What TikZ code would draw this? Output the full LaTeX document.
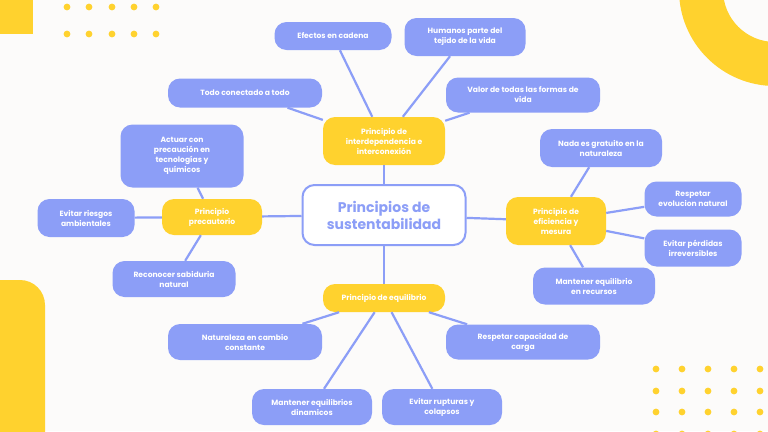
\documentclass[tikz,border=0pt]{standalone}
\usepackage{fontspec}
\setmainfont{Poppins}[BoldFont={* Bold}]
\definecolor{bl}{HTML}{8C9EF7}
\definecolor{yl}{HTML}{FFD22E}
\definecolor{bg}{HTML}{FCFBFA}
\begin{document}
\begin{tikzpicture}[x=1pt,y=-1pt,
 base/.style={rounded corners=12pt,text=white,font=\bfseries\fontsize{7.6}{10}\selectfont,align=center,inner sep=2pt},
 bn/.style={base,fill=bl},
 yn/.style={base,fill=yl},
 ln/.style={draw=bl,line width=2.2pt}]
\fill[bg] (0,0) rectangle (768,431);
\useasboundingbox (0,0) rectangle (768,431);
% decorations
\fill[yl] (0,0) rectangle (33,34);
\foreach \x in {67,89,112,134,156}\foreach \y in {7,34}\fill[yl] (\x,\y) circle (3.4);
\foreach \x in {656,682,708,734,760}\foreach \y in {369,391,412,434}\fill[yl] (\x,\y) circle (3.4);
\fill[yl,even odd rule] (775,-10) circle (96) (775,-10) circle (52);
\fill[yl,rounded corners=25pt] (-30,280) rectangle (45,470);
% nodes
\node[draw=bl,line width=2pt,fill=white,rounded corners=12pt,minimum width=163,minimum height=60,text=bl,align=center,font=\bfseries\fontsize{14}{17}\selectfont] (c) at (384,215) {Principios de\\sustentabilidad};
\node[yn,minimum width=122,minimum height=48] (i) at (384,141) {Principio de\\interdependencia e\\interconexión};
\node[yn,minimum width=100,minimum height=36] (p) at (212,217) {Principio\\precautorio};
\node[yn,minimum width=100,minimum height=48] (e) at (556,221) {Principio de\\eficiencia y\\mesura};
\node[yn,minimum width=122,minimum height=28] (q) at (384,298) {Principio de equilibrio};
\node[bn,minimum width=117,minimum height=28] (b1) at (333,36) {Efectos en cadena};
\node[bn,minimum width=121,minimum height=38] (b2) at (465,37) {Humanos parte del\\tejido de la vida};
\node[bn,minimum width=154,minimum height=29] (b3) at (245,93) {Todo conectado a todo};
\node[bn,minimum width=154,minimum height=35] (b4) at (523,95) {Valor de todas las formas de\\vida};
\node[bn,minimum width=123,minimum height=63] (b5) at (182,156) {Actuar con\\precaución en\\tecnologías y\\químicos};
\node[bn,minimum width=97,minimum height=38] (b6) at (86,218) {Evitar riesgos\\ambientales};
\node[bn,minimum width=123,minimum height=36] (b7) at (174,279) {Reconocer sabiduria\\natural};
\node[bn,minimum width=122,minimum height=38] (b8) at (601,148) {Nada es gratuito en la\\naturaleza};
\node[bn,minimum width=97,minimum height=35] (b9) at (693,199) {Respetar\\evolucion natural};
\node[bn,minimum width=97,minimum height=37] (b10) at (693,248) {Evitar pérdidas\\irreversibles};
\node[bn,minimum width=122,minimum height=37] (b11) at (594,286) {Mantener equilibrio\\en recursos};
\node[bn,minimum width=154,minimum height=36] (b12) at (245,342) {Naturaleza en cambio\\constante};
\node[bn,minimum width=154,minimum height=35] (b13) at (523,342) {Respetar capacidad de\\carga};
\node[bn,minimum width=120,minimum height=36] (b14) at (312,407) {Mantener equilibrios\\dinamicos};
\node[bn,minimum width=120,minimum height=36] (b15) at (442,407) {Evitar rupturas y\\colapsos};
% connectors
\begin{scope}[on background layer/.style={}]
\end{scope}
\draw[ln] (c) -- (i); \draw[ln] (c) -- (p); \draw[ln] (c) -- (e); \draw[ln] (c) -- (q);
\draw[ln] (i) -- (b1); \draw[ln] (i) -- (b2); \draw[ln] (i) -- (b3); \draw[ln] (i) -- (b4);
\draw[ln] (p) -- (b5); \draw[ln] (p) -- (b6); \draw[ln] (p) -- (b7);
\draw[ln] (e) -- (b8); \draw[ln] (e) -- (b9); \draw[ln] (e) -- (b10); \draw[ln] (e) -- (b11);
\draw[ln] (q) -- (b12); \draw[ln] (q) -- (b13); \draw[ln] (q) -- (b14); \draw[ln] (q) -- (b15);
\end{tikzpicture}
\end{document}
